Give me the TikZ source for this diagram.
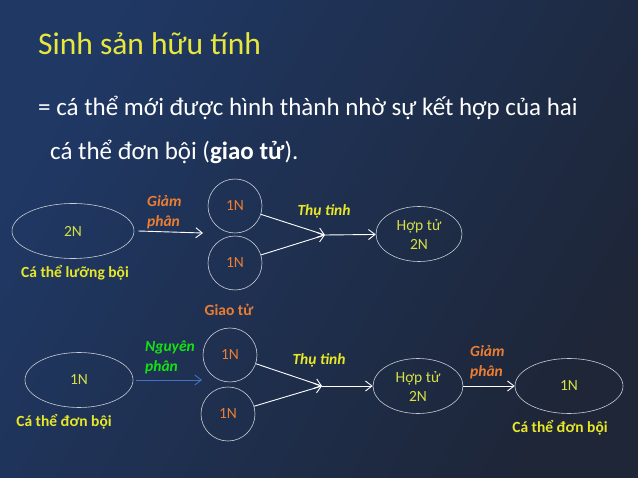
\documentclass[tikz,border=0pt]{standalone}
\usepackage{fontspec}
\setmainfont{Carlito}
\usetikzlibrary{shapes.geometric, arrows.meta}

\definecolor{bgleft}{RGB}{31,56,100}
\definecolor{bgright}{RGB}{30,38,56}
\definecolor{titleyellow}{RGB}{232,232,60}
\definecolor{labelyellow}{RGB}{232,232,40}
\definecolor{nyellow}{RGB}{215,225,70}
\definecolor{orangetxt}{RGB}{237,125,49}
\definecolor{greentxt}{RGB}{20,225,20}
\definecolor{bluearrow}{RGB}{68,114,196}
\definecolor{ringgray}{RGB}{200,205,215}

\tikzset{
  cell/.style = {ellipse, draw = ringgray, line width = 0.6pt, inner sep = 0pt, align = center,
                 text = nyellow, font = \fontsize{15.5}{19}\selectfont},
  gamete/.style = {circle, draw = ringgray, line width = 0.6pt, minimum size = 54pt, inner sep = 0pt,
                   text = orangetxt, font = \fontsize{15.5}{19}\selectfont},
  tip/.style = {-{Straight Barb[length = 6.5pt, width = 10pt]}},
  flow/.style = {tip, white, line width = 0.9pt},
  stagename/.style = {text = labelyellow, font = \fontsize{15.5}{19}\selectfont\bfseries},
  process/.style = {align = left, font = \fontsize{15.5}{20}\selectfont\bfseries\itshape, inner sep = 0pt}
}

\begin{document}
\begin{tikzpicture}[x = 1pt, y = -1pt]
            \shade[left color = bgleft, right color = bgright, shading angle = 60] (0,0) rectangle (638,478);
            \useasboundingbox (0,0) rectangle (638,478);

            % title and definition
            \node[anchor = base west, inner sep = 0pt, text = titleyellow, font = \fontsize{31.5}{36}\selectfont] (title) at (38,55) {Sinh sản hữu tính};
            \node[anchor = base west, inner sep = 0pt, text = white, font = \fontsize{25}{30}\selectfont] (line1) at (38,116) {= cá thể mới được hình thành nhờ sự kết hợp của hai};
            \node[anchor = base west, inner sep = 0pt, text = white, font = \fontsize{25}{30}\selectfont] (line2) at (50,160) {cá thể đơn bội (\textbf{giao tử}).};

            % lưỡng bội
            \node[cell, minimum width = 122pt, minimum height = 55pt] (diploid) at (73,231) {2N};
            \node[stagename] (diploidname) at (75,273) {Cá thể lưỡng bội};
            \node[gamete] (ga) at (235,206) {1N};
            \node[gamete] (gb) at (235,263) {1N};
            \node[text = orangetxt, font = \fontsize{15.5}{19}\selectfont\bfseries] (gname) at (229,310) {Giao tử};
            \coordinate (ja) at (325,235);
            \node[cell, minimum width = 86pt, minimum height = 55pt] (zygote) at (419,234) {Hợp tử\\2N};

            \draw[flow] (diploid.east) ++(4,0) -- (203,233);
            \node[process, text = orangetxt, anchor = west] (meiosis) at (147,212) {Giảm\\phân};
            \draw[flow] (ga) -- (ja);
            \draw[flow] (gb) -- (ja);
            \draw[flow] (ja) -- (zygote);
            \node[process, text = labelyellow] (fert) at (324,211) {Thụ tinh};

            % đơn bội
            \node[cell, minimum width = 108pt, minimum height = 55pt] (haploid) at (79,380) {1N};
            \node[stagename] (haploidname) at (64,422) {Cá thể đơn bội};
            \node[gamete] (gc) at (230,355) {1N};
            \node[gamete] (gd) at (228,414) {1N};
            \coordinate (jb) at (322,386);
            \node[cell, minimum width = 90pt, minimum height = 55pt] (zygoteb) at (418,386) {Hợp tử\\2N};
            \node[cell, minimum width = 108pt, minimum height = 55pt] (adult) at (569,386) {1N};
            \node[stagename] (adultname) at (560,428) {Cá thể đơn bội};

            \draw[tip, bluearrow, line width = 0.9pt] (haploid.east) ++(3,0) -- (202,380);
            \node[process, text = greentxt, anchor = west] (mitosis) at (145,357) {Nguyên\\phân};
            \draw[flow] (gc) -- (jb);
            \draw[flow] (gd) -- (jb);
            \draw[flow] (jb) -- (zygoteb);
            \node[process, text = labelyellow] (fertb) at (319,360) {Thụ tinh};
            \draw[flow] (zygoteb) -- (adult);
            \node[process, text = orangetxt, anchor = west] (meiosisb) at (470,362) {Giảm\\phân};
\end{tikzpicture}
\end{document}
